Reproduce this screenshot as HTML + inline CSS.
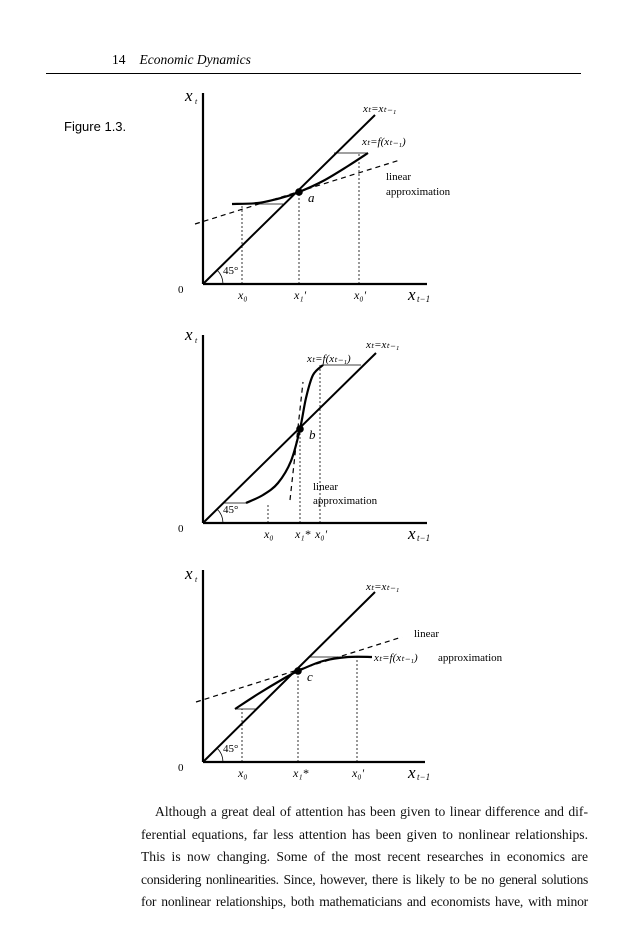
<!DOCTYPE html>
<html><head><meta charset="utf-8">
<style>
body{margin:0;background:#fff;width:638px;height:943px;overflow:hidden;position:relative;font-family:"Liberation Serif",serif;}
#hdr{position:absolute;left:112px;top:52px;font-size:13.5px;}
#hdr i{margin-left:14px}
#rule{position:absolute;left:46px;top:73px;width:535px;height:1px;background:#000}
#fig{position:absolute;left:64px;top:119px;font:13px "Liberation Sans",sans-serif;}
#para{position:absolute;left:141px;top:801px;width:447px;font-size:13.6px;line-height:22.5px;text-align:justify;color:#111}
#para span{display:block;text-align-last:justify;white-space:nowrap}
svg{position:absolute;left:0;top:0}
svg text{font-family:"Liberation Serif",serif}
</style></head><body>
<div id="hdr">14<i>Economic Dynamics</i></div>
<div id="rule"></div>
<div id="fig">Figure 1.3.</div>
<svg id="chart" width="638" height="943"></svg>
<div id="para">
<span style="text-indent:14px;white-space:normal">Although a great deal of attention has been given to linear difference and dif-</span>
<span style="white-space:normal">ferential equations, far less attention has been given to nonlinear relationships.</span>
<span style="white-space:normal">This is now changing. Some of the most recent researches in economics are</span>
<span style="letter-spacing:-0.3px">considering nonlinearities. Since, however, there is likely to be no general solutions</span>
<span style="letter-spacing:-0.2px">for nonlinear relationships, both mathematicians and economists have, with minor</span>
</div>
<script>
// Panel data (units relative to each panel's origin)
const origins = [[203,284],[203,523],[203,762]];
const diagLine = [[[0,0],[172,169]],[[0,0],[173,170]],[[0,0],[172,170]]];
const curve1 = [[29,80],[55,81],[78,86],[96,92],[120,103],[145,118],[165,131]];
const curve2 = [[43,20],[60,28],[75,40],[88,62],[97,94],[103,125],[110,148],[120,158]];
const curve3 = [[32,53],[55,68],[80,83],[95,91],[120,101],[145,105],[169,105]];
const dashed = [[[-8,60],[197,124]],[[87,23],[100,141]],[[-7,60],[199,125]]];
const fixedPts = [[96,92],[97,94],[95,91]];
const x0s = [39,65,39];
const x0ps = [156,117,154];
const fixLabels = ["a","b","c"];
const xStarLabels = ["x\u2081'","x\u2081*","x\u2081*"];
const yTops = [191,188,192];
const xEnds = [224,224,222];
const curves = [curve1,curve2,curve3];

const svg = document.getElementById('chart');
const NS='http://www.w3.org/2000/svg';
function mk(tag,attrs){const e=document.createElementNS(NS,tag);for(const k in attrs)e.setAttribute(k,attrs[k]);svg.appendChild(e);return e;}
function txt(x,y,s,size,ital,name){const t=mk('text',{x:x,y:y,'font-size':size,'font-style':ital?'italic':'normal'});t.textContent=s;return t;}
function smooth(pts){let d='M'+pts[0][0]+','+pts[0][1];for(let i=0;i<pts.length-1;i++){const p0=pts[i-1]||pts[i],p1=pts[i],p2=pts[i+1],p3=pts[i+2]||p2;
const c1=[p1[0]+(p2[0]-p0[0])/6,p1[1]+(p2[1]-p0[1])/6],c2=[p2[0]-(p3[0]-p1[0])/6,p2[1]-(p3[1]-p1[1])/6];
d+=' C'+c1+' '+c2+' '+p2;}return d;}

origins.forEach((o,i)=>{
  const sx=v=>o[0]+v, sy=v=>o[1]-v;
  let e;
  e=mk('line',{x1:o[0],y1:o[1],x2:o[0],y2:o[1]-yTops[i],stroke:'#000','stroke-width':2.2});
  
  e=mk('line',{x1:o[0],y1:o[1],x2:o[0]+xEnds[i],y2:o[1],stroke:'#000','stroke-width':2.2});
  
  const L=diagLine[i];
  e=mk('line',{x1:sx(L[0][0]),y1:sy(L[0][1]),x2:sx(L[1][0]),y2:sy(L[1][1]),stroke:'#000','stroke-width':2});
  
  const D=dashed[i];
  e=mk('line',{x1:sx(D[0][0]),y1:sy(D[0][1]),x2:sx(D[1][0]),y2:sy(D[1][1]),stroke:'#000','stroke-width':1.2,'stroke-dasharray':'5,4'});
  
  const c=curves[i].map(p=>[sx(p[0]),sy(p[1])]);
  e=mk('path',{d:smooth(c),fill:'none',stroke:'#000','stroke-width':2.2});
  
  const f=fixedPts[i];
  const cy0=curves[i][0][1], cyN=curves[i][curves[i].length-1][1];
  [[x0s[i],cy0],[f[0],f[1]],[x0ps[i],cyN]].forEach(v=>{
    e=mk('line',{x1:sx(v[0]),y1:o[1],x2:sx(v[0]),y2:sy(v[1]),stroke:'#000','stroke-width':0.8,'stroke-dasharray':'2,2'});
    
  });
  [curves[i][0],curves[i][curves[i].length-1]].forEach(p=>{
    e=mk('polyline',{points:[sx(p[0]),sy(p[1]),sx(p[1]),sy(p[1])].join(' '),fill:'none',stroke:'#000','stroke-width':0.8});
    
  });
  e=mk('circle',{cx:sx(f[0]),cy:sy(f[1]),r:3.8,fill:'#000'});
  
  txt(sx(f[0])+9,sy(f[1])+10,fixLabels[i],13,true,'fixed-point-label');
  txt(o[0]-18,o[1]-183,'x',17,true,'y-axis-title');
  txt(o[0]-8,o[1]-180,'t',8,true,'y-axis-subscript');
  txt(o[0]+205,o[1]+16,'x',17,true,'x-axis-title');
  txt(o[0]+214,o[1]+18,'t\u22121',9,true,'x-axis-subscript');
  txt(o[0]-25,o[1]+9,'0',11,false,'origin-label');
  txt(sx(x0s[i])-4,o[1]+15,'x\u2080',12,true,'x0-label');
  txt(sx(f[0])-5,o[1]+15,xStarLabels[i],12,true,'xstar-label');
  txt(sx(x0ps[i])-5,o[1]+15,"x\u2080'",12,true,'x0prime-label');
  txt(o[0]+20,o[1]-10,'45\u00b0',11,false,'angle-label');
  e=mk('path',{d:`M${o[0]+20},${o[1]} A20,20 0 0 0 ${o[0]+14},${o[1]-14}`,fill:'none',stroke:'#000','stroke-width':0.8});
  
});
const lbls=[[363,112,'xₜ=xₜ₋₁'],[362,145,'xₜ=f(xₜ₋₁)'],[366,348,'xₜ=xₜ₋₁'],[307,362,'xₜ=f(xₜ₋₁)'],[366,590,'xₜ=xₜ₋₁'],[374,661,'xₜ=f(xₜ₋₁)']];
lbls.forEach(l=>txt(l[0],l[1],l[2],11,true,'series-label'));
const apx=[[386,180,386,195],[313,490,313,504],[414,637,438,661]];
apx.forEach(a=>{txt(a[0],a[1],'linear',11,false,'approx-label');txt(a[2],a[3],'approximation',11,false,'approx-label');});
</script>
</body></html>
